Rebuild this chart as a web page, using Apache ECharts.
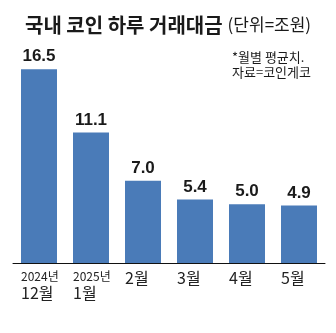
<!DOCTYPE html>
<html><head><meta charset="utf-8">
<script src="https://cdn.jsdelivr.net/npm/echarts@6/dist/echarts.min.js"></script>
<style>html,body{margin:0;padding:0;background:#fff}#c{width:336px;height:333px}</style>
</head><body><div id="c"></div>
<script>
const categoriesTop = ['2024년', '2025년', '', '', '', ''];
const categoriesMain = ['12월', '1월', '2월', '3월', '4월', '5월'];
const values = [16.5, 11.1, 7.0, 5.4, 5.0, 4.9];
const titleMain = '국내 코인 하루 거래대금';
const titleUnit = '(단위=조원)';
const noteLines = ['*월별 평균치.', '자료=코인게코'];

const cats = categoriesMain.map((m, i) => categoriesTop[i] ? categoriesTop[i] + '\n' + m : m);
const chart = echarts.init(document.getElementById('c'));
const kr = '"Noto Sans CJK KR", sans-serif';
const narrow = '"Liberation Sans Narrow", "Arial Narrow", "Liberation Sans", sans-serif';
chart.setOption({
  animation: false,
  backgroundColor: '#fff',
  title: [
    { text: '{a|' + titleMain + '} {b|' + titleUnit + '}', left: 20, top: 10,
      textStyle: { rich: {
        a: { fontFamily: kr, fontWeight: 'bold', fontSize: 20, color: '#1a1a1a' },
        b: { fontFamily: kr, fontWeight: 'normal', fontSize: 17, color: '#1a1a1a' } } } },
    { text: noteLines.join('\n'), left: 227, top: 45,
      textStyle: { fontFamily: kr, fontWeight: 'normal', fontSize: 13, lineHeight: 15, color: '#1a1a1a' } }
  ],
  grid: { left: 13, right: 11, top: 28, bottom: 70, containLabel: false },
  xAxis: {
    type: 'category', data: cats,
    axisLine: { lineStyle: { color: '#111', width: 1 } },
    axisTick: { show: false },
    axisLabel: {
      interval: 0, margin: 6,
      formatter: function (v) {
        const parts = v.split('\n');
        if (parts.length === 2) return '{s|' + parts[0] + '}\n{m|' + parts[1] + '}';
        return '{m|' + v + '}';
      },
      rich: {
        s: { fontFamily: kr, fontSize: 12, lineHeight: 15, width: 36, align: 'left', color: '#222' },
        m: { fontFamily: kr, fontSize: 16, lineHeight: 17, width: 36, align: 'left', color: '#222' }
      }
    }
  },
  yAxis: { type: 'value', min: 0, max: 20, show: false, splitLine: { show: false } },
  series: [{
    type: 'bar', data: values, barWidth: 36,
    itemStyle: { color: '#4a7bb8' },
    label: { show: true, position: 'top', distance: 4,
      formatter: p => p.value.toFixed(1),
      fontFamily: narrow, fontWeight: 'bold', fontSize: 17, color: '#1a1a1a' }
  }]
});
</script></body></html>
